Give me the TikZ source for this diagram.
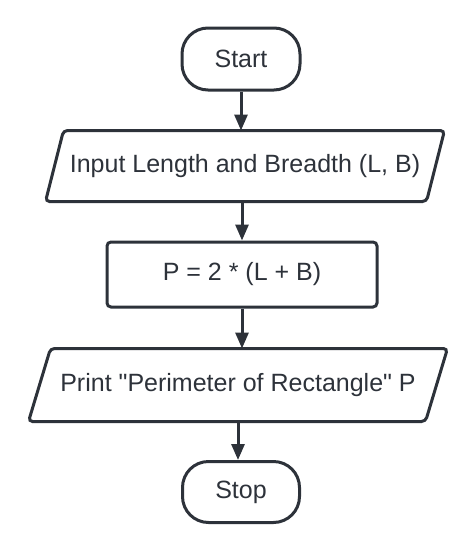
\documentclass[tikz,border=0pt]{standalone}
\usepackage{fontspec}
\setmainfont{Liberation Sans}
\usepackage{tikz}
\usetikzlibrary{arrows.meta}
\definecolor{ink}{RGB}{45,50,58}

\begin{document}
\begin{tikzpicture}[x=1pt, y=1pt, line width=3pt, draw=ink, text=ink,
  font=\fontsize{25}{29}\selectfont,
  term/.style={draw, rounded corners=26pt, minimum width=118pt, minimum height=62pt},
  proc/.style={draw, rounded corners=4pt, minimum width=270pt, minimum height=65pt},
  io/.style={minimum height=68pt},
  flow/.style={-{Triangle[width=13pt,length=16pt]}}]
\useasboundingbox (0,0) rectangle (474,-552);
\node (start) [term] at (241,-59) {Start};
\node (input) [io, minimum width=378pt] at (245,-166) {Input Length and Breadth (L, B)};
\node (calc) [proc] at (242,-274.5) {P = 2 * (L + B)};
\node (output) [io, minimum width=394pt, minimum height=70pt] at (238,-385)
  {Print \textquotedbl Perimeter of Rectangle\textquotedbl\ P};
\node (stop) [term, minimum width=117pt, minimum height=61pt] at (241,-492) {Stop};
% parallelograms round the io nodes
\draw[rounded corners=4pt] ([xshift=9pt]input.north west) -- ([xshift=9pt]input.north east)
  -- ([xshift=-9pt]input.south east) -- ([xshift=-9pt]input.south west) -- cycle;
\draw[rounded corners=4pt] ([xshift=11pt]output.north west) -- ([xshift=11pt]output.north east)
  -- ([xshift=-11pt]output.south east) -- ([xshift=-11pt]output.south west) -- cycle;
\draw[flow] (start.south) -- (start.south |- input.north);
\draw[flow] (calc.north |- input.south) -- (calc.north);
\draw[flow] (calc.south) -- (calc.south |- output.north);
\draw[flow] (output.south) -- (output.south |- stop.north);
\end{tikzpicture}
\end{document}
